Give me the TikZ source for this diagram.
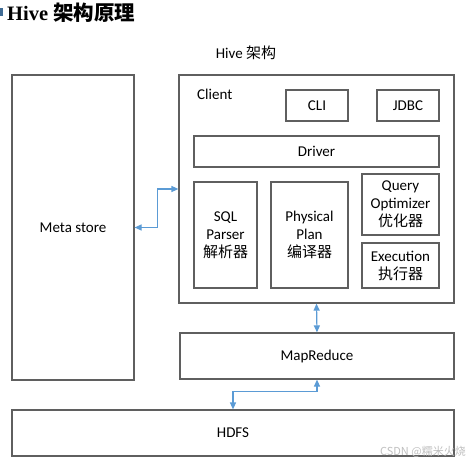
\documentclass[tikz,border=0pt]{standalone}
\usepackage{fontspec}
\setmainfont{Carlito}
\newfontfamily\cjk{Noto Sans CJK SC}
\newfontfamily\titlefont{Liberation Serif}
\usetikzlibrary{arrows.meta}
\definecolor{boxgray}{HTML}{5F5F5F}
\definecolor{linkblue}{HTML}{5B9BD5}
\newcommand\boxfont{\fontsize{15}{18}\selectfont}
\tikzset{
    box/.style={rectangle,draw=boxgray,line width=1.2pt,inner sep=0pt,align=center,font=\boxfont},
    plain/.style={rectangle,draw=none,inner sep=0pt,font=\boxfont},
    link/.style={draw=linkblue,line width=1.2pt,arrows={Triangle[length=7pt,width=6pt]-Triangle[length=7pt,width=6pt]}},
    }
\begin{document}
\begin{tikzpicture}[x=1pt,y=-1pt]
	\useasboundingbox (0,0) rectangle (474,465);
	\fill[linkblue!70!black] (-3,8) rectangle (2.5,16);
		\node[plain,anchor=west,font=\titlefont\fontsize{20.5}{24}\selectfont\bfseries] (title) at (7,13) {Hive {\cjk 架构原理}};
		\node[plain] (header) at (246,53) {Hive {\cjk 架构}};
		
		\node[box,minimum width=122,minimum height=305] (meta) at (73,227.5) {Meta store};
		\node[box,minimum width=275,minimum height=228] (client) at (316.5,189) {};
		\node[plain,anchor=west] (clientname) at (197,94) {Client};
		
		\node[box,minimum width=62,minimum height=31] (cli) at (317,105.5) {CLI};
		\node[box,minimum width=62,minimum height=31] (jdbc) at (408,105.5) {JDBC};
		\node[box,minimum width=245,minimum height=31] (driver) at (316.5,151.5) {Driver};
		
		\node[box,minimum width=63,minimum height=106] (parser) at (225.5,235) {SQL\\Parser\\{\cjk 解析器}};
		\node[box,minimum width=77,minimum height=106] (plan) at (309.5,235) {Physical\\Plan\\{\cjk 编译器}};
		\node[box,minimum width=77,minimum height=61] (optimizer) at (400.5,204.5) {Query\\Optimizer\\{\cjk 优化器}};
		\node[box,minimum width=77,minimum height=45] (executor) at (400.5,265.5) {Execution\\{\cjk 执行器}};
		
		\node[box,minimum width=274,minimum height=46] (mr) at (317,356) {MapReduce};
		\node[box,minimum width=442,minimum height=46] (hdfs) at (233,433) {HDFS};
		
		\node[plain,anchor=east,text=gray!50,font=\cjk\fontsize{11}{13}\selectfont] (mark) at (466,452) {CSDN @糯米火烧};
	
	
	\draw[link] (meta.east) -- ++(23,0) |- (client.west);
	\draw[link] (client.south) -- (mr.north);
	\draw[link] (mr.south) -- ++(0,12) -| (hdfs.north);
    \end{tikzpicture}
\end{document}
